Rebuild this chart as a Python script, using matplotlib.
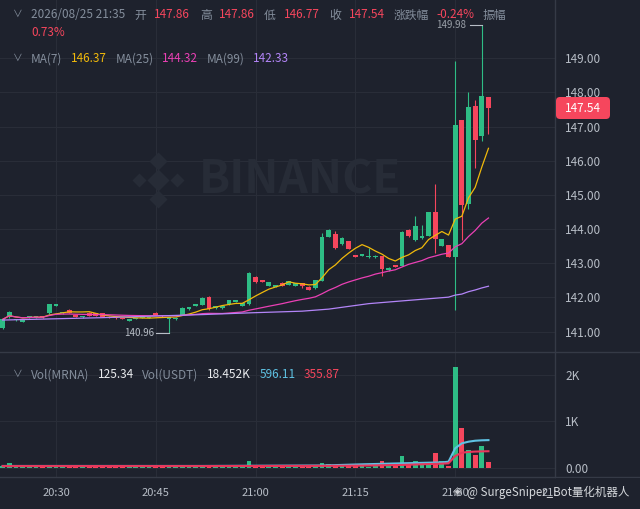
import matplotlib
matplotlib.use("Agg")
import matplotlib.pyplot as plt
import numpy as np
import pandas as pd
from matplotlib.patches import FancyBboxPatch, Rectangle
from matplotlib.lines import Line2D
from matplotlib.transforms import IdentityTransform

# 1 minute candles, 20:22 .. 21:35
opens = [141.11, 141.42, 141.34, 141.29, 141.42, 141.42, 141.46, 141.54, 141.76, 141.54,
         141.64, 141.48, 141.42, 141.56, 141.54, 141.55, 141.44, 141.42, 141.40, 141.31,
         141.37, 141.40, 141.41, 141.54, 141.47, 141.36, 141.36, 141.49, 141.65, 141.75,
         141.78, 142.02, 141.68, 141.68, 141.80, 141.88, 141.76, 141.80, 142.61, 142.51,
         142.34, 142.32, 142.43, 142.37, 142.35, 142.41, 142.32, 142.27, 142.49, 143.78,
         143.85, 143.56, 143.65, 143.24, 143.21, 143.18, 143.18, 143.21, 142.80, 142.95,
         142.92, 143.98, 143.67, 143.73, 143.81, 144.49, 143.52, 143.54, 143.19, 147.18,
         144.73, 147.60, 146.74, 147.86]
highs = [141.38, 141.60, 141.38, 141.35, 141.47, 141.47, 141.47, 141.82, 141.81, 141.58,
         141.66, 141.49, 141.47, 141.57, 141.55, 141.56, 141.45, 141.43, 141.41, 141.37,
         141.41, 141.42, 141.43, 141.58, 141.48, 141.44, 141.42, 141.71, 141.72, 141.82,
         142.00, 142.03, 141.75, 141.76, 141.93, 141.93, 141.84, 142.74, 142.63, 142.52,
         142.45, 142.37, 142.44, 142.49, 142.42, 142.42, 142.33, 142.52, 143.88, 144.00,
         143.95, 143.76, 143.66, 143.25, 143.27, 143.46, 143.23, 143.22, 142.88, 142.96,
         143.96, 143.99, 144.38, 144.13, 144.50, 145.32, 143.71, 143.55, 148.92, 147.20,
         148.01, 147.79, 149.98, 147.86]
lows = [141.08, 141.40, 141.32, 141.27, 141.41, 141.41, 141.41, 141.53, 141.75, 141.53,
        141.54, 141.42, 141.41, 141.46, 141.46, 141.43, 141.41, 141.38, 141.36, 141.30,
        141.36, 141.39, 141.40, 141.48, 141.44, 140.96, 141.35, 141.48, 141.64, 141.74,
        141.77, 141.64, 141.67, 141.67, 141.79, 141.87, 141.75, 141.79, 142.43, 142.44,
        142.33, 142.31, 142.33, 142.36, 142.34, 142.28, 142.21, 142.26, 142.48, 143.77,
        143.42, 143.55, 143.41, 143.18, 143.20, 143.17, 143.17, 142.62, 142.79, 142.89,
        142.91, 143.78, 143.66, 143.72, 143.80, 143.31, 143.51, 143.18, 141.63, 143.68,
        144.58, 145.80, 146.59, 146.77]
closes = [141.36, 141.57, 141.36, 141.33, 141.46, 141.46, 141.42, 141.81, 141.80, 141.57,
          141.55, 141.43, 141.46, 141.47, 141.47, 141.44, 141.42, 141.39, 141.37, 141.36,
          141.40, 141.41, 141.42, 141.49, 141.45, 141.43, 141.41, 141.70, 141.71, 141.81,
          141.99, 141.65, 141.74, 141.75, 141.92, 141.92, 141.83, 142.71, 142.44, 142.45,
          142.44, 142.36, 142.34, 142.48, 142.41, 142.33, 142.22, 142.51, 143.78, 143.97,
          143.46, 143.75, 143.42, 143.19, 143.26, 143.22, 143.22, 142.82, 142.87, 142.90,
          143.92, 143.79, 144.10, 143.80, 144.49, 143.72, 143.70, 143.19, 147.05, 144.70,
          147.57, 146.62, 147.89, 147.54]
volumes = [30, 95, 25, 30, 20, 25, 20, 35, 25, 20,
           30, 25, 20, 30, 25, 20, 15, 20, 25, 20,
           15, 20, 25, 35, 20, 30, 20, 25, 20, 25,
           30, 35, 20, 15, 25, 20, 30, 145, 30, 25,
           20, 25, 20, 30, 20, 25, 35, 30, 95, 80,
           40, 30, 45, 30, 40, 25, 35, 145, 40, 35,
           260, 73, 151, 58, 64, 311, 151, 43, 2168, 864,
           382, 274, 469, 125.34]

# MA(99) (history before 20:22 not visible)
ma99_idx = [0, 15, 30, 37, 45, 49, 55, 60, 67, 68, 69, 70, 71, 72, 73]
ma99_val = [141.34, 141.41, 141.50, 141.55, 141.60, 141.66, 141.82, 141.90, 142.01,
            142.07, 142.10, 142.17, 142.22, 142.28, 142.33]
# volume MA lines
vma_idx = [0, 30, 48, 54, 60, 66, 67, 68, 69, 70, 71, 72, 73]
vma1_val = [38, 38, 48, 73, 95, 115, 130, 419, 527, 562, 583, 592, 596.11]
vma2_val = [35, 35, 40, 45, 60, 88, 95, 253, 324, 340, 348, 353, 355.87]

time_ticks = [8, 23, 38, 53, 68, 83]
time_labels = ["20:30", "20:45", "21:00", "21:15", "21:30", "21:45"]
price_ticks = [141, 142, 143, 144, 145, 146, 147, 148, 149]
vol_ticks = [0, 1000, 2000]
vol_labels = ["0.00", "1K", "2K"]

BG = "#1e222d"
GRID = "#292d38"
SEP = "#353a46"
GREEN = "#2ebd85"
RED = "#f6465d"
GRAY = "#848e9c"
LIGHT = "#b7bdc6"

plt.rcParams["font.family"] = ["Noto Sans CJK SC", "DejaVu Sans"]

W, H = 640, 509
fig = plt.figure(figsize=(6.4, 5.09), dpi=100, facecolor=BG)
ax = fig.add_axes([0, 157 / H, 555 / W, 352 / H], facecolor=BG)
axv = fig.add_axes([0, 31.7 / H, 555 / W, 125.3 / H], facecolor=BG)

df = pd.DataFrame({"o": opens, "h": highs, "l": lows, "c": closes, "v": volumes})
idx = np.arange(len(df))
up = df["c"] >= df["o"]
cols = np.where(up, GREEN, RED)

# candles
ax.vlines(idx, df["l"], df["h"], colors=cols, linewidth=0.8, zorder=3)
body_lo = np.minimum(df["o"], df["c"])
body_h = np.maximum((df["c"] - df["o"]).abs(), 0.015)
ax.bar(idx, body_h, bottom=body_lo, width=0.72, color=cols, linewidth=0, zorder=4)

ma7 = df["c"].rolling(7, min_periods=1).mean()
ma25 = df["c"].rolling(25, min_periods=1).mean()
ax.plot(idx, ma7, color="#f0b90b", lw=0.9, zorder=5)
ax.plot(idx, ma25, color="#eb40b5", lw=0.9, zorder=5)
ax.plot(ma99_idx, ma99_val, color="#b385f8", lw=0.9, zorder=5)

# max / min marks
ax.plot([70.2, 72], [149.98, 149.98], color=LIGHT, lw=0.8, zorder=6)
ax.text(69.6, 149.98, "149.98", color="#9aa0a8", fontsize=7, ha="right", va="center")
ax.plot([23.1, 25], [140.96, 140.96], color=LIGHT, lw=0.8, zorder=6)
ax.text(22.7, 140.96, "140.96", color=LIGHT, fontsize=7, ha="right", va="center")

# watermark
def axp(px, py):
    return px / 555, 1 - py / 352

wm = "#272c37"
ax.text(*axp(199, 180), "BINANCE", color=wm, fontsize=33, fontweight="bold",
        ha="left", va="center", transform=ax.transAxes, zorder=1)
for dx, dy, s in [(0, 0, 11), (-19, 0, 7), (19, 0, 7), (0, -19, 9), (0, 19, 9)]:
    ax.plot(*axp(158 + dx, 180 + dy), marker="D", ms=s, color=wm, mec="none",
            transform=ax.transAxes, zorder=1)

ax.set_xlim(-0.405, 82.8)
ax.set_ylim(140.405, 150.706)
ax.set_xticks(time_ticks)
ax.set_yticks(price_ticks)
ax.set_yticklabels([f"{p:.2f}" for p in price_ticks])
ax.yaxis.tick_right()
ax.tick_params(axis="y", length=0, pad=7.5, labelsize=8.5, labelcolor=LIGHT)
ax.tick_params(axis="x", length=0, labelbottom=False)
ax.grid(color=GRID, lw=0.8)
ax.set_axisbelow(True)

# volume
axv.bar(idx, df["v"], width=0.72, color=cols, linewidth=0, zorder=3)
axv.plot(vma_idx, vma1_val, color="#5fc2e3", lw=1.5, zorder=4)
axv.plot(vma_idx, vma2_val, color="#e8365b", lw=1.5, zorder=5)
axv.set_xlim(-0.405, 82.8)
axv.set_ylim(-207, 2499)
axv.set_xticks(time_ticks)
axv.set_xticklabels(time_labels)
axv.set_yticks(vol_ticks)
axv.set_yticklabels(vol_labels)
axv.yaxis.tick_right()
axv.tick_params(axis="y", length=0, pad=7.5, labelsize=8.5, labelcolor=LIGHT)
axv.tick_params(axis="x", length=0, pad=8, labelsize=8, labelcolor=LIGHT)
axv.grid(color=GRID, lw=0.8)
axv.set_axisbelow(True)

for a in (ax, axv):
    for s in a.spines.values():
        s.set_visible(False)

# separators
fig.add_artist(Line2D([555 / W, 555 / W], [31.7 / H, 1], color=SEP, lw=1))
fig.add_artist(Line2D([0, 1], [157 / H, 157 / H], color=SEP, lw=1))
fig.add_artist(Line2D([0, 1], [31.7 / H, 31.7 / H], color=SEP, lw=1))
fig.add_artist(Rectangle((555.5 / W, 0), 84.5 / W, 31 / H, transform=fig.transFigure,
                         facecolor=BG, edgecolor="none", zorder=2))

# current price tag
fig.add_artist(FancyBboxPatch((556, H - 119), 54, 22, boxstyle="round,pad=0,rounding_size=4",
                              transform=IdentityTransform(), facecolor=RED,
                              edgecolor="none", zorder=3))
fig.text(583 / W, 1 - 108 / H, "147.54", color="white", fontsize=8.5,
         ha="center", va="center", zorder=4)


def put(px, py, s, color, size=8.5):
    fig.text(px / W, 1 - py / H, s, color=color, fontsize=size, ha="left", va="center", zorder=4)


# header
put(13, 14, "∨", GRAY, 7)
put(31, 15, "2026/08/25 21:35", GRAY)
for x, s, c in [(134, "开", GRAY), (154, "147.86", RED), (200, "高", GRAY), (219, "147.86", RED),
                (264, "低", GRAY), (284, "146.77", RED), (329, "收", GRAY), (349, "147.54", RED),
                (394, "涨跌幅", GRAY), (436, "-0.24%", RED), (483, "振幅", GRAY)]:
    put(x, 15, s, c)
put(31, 32, "0.73%", RED)

put(13, 58, "∨", GRAY, 7)
for x, s, c in [(31, "MA(7)", GRAY), (71, "146.37", "#f0b90b"), (116, "MA(25)", GRAY),
                (162, "144.32", "#eb40b5"), (207, "MA(99)", GRAY), (253, "142.33", "#b385f8")]:
    put(x, 59, s, c)

put(13, 374, "∨", GRAY, 7)
for x, s, c in [(31, "Vol(MRNA)", GRAY), (98, "125.34", "#eaecef"), (142, "Vol(USDT)", GRAY),
                (207, "18.452K", "#eaecef"), (260, "596.11", "#5fc2e3"), (304, "355.87", RED)]:
    put(x, 375, s, c)

# bottom watermark
put(453, 492, "◈", "#c9ccd1", 8.5)
put(467, 492, "@ SurgeSniper_Bot量化机器人", "#d5d8dc", 8.3)

fig.savefig("out.png", dpi=100, facecolor=BG)
